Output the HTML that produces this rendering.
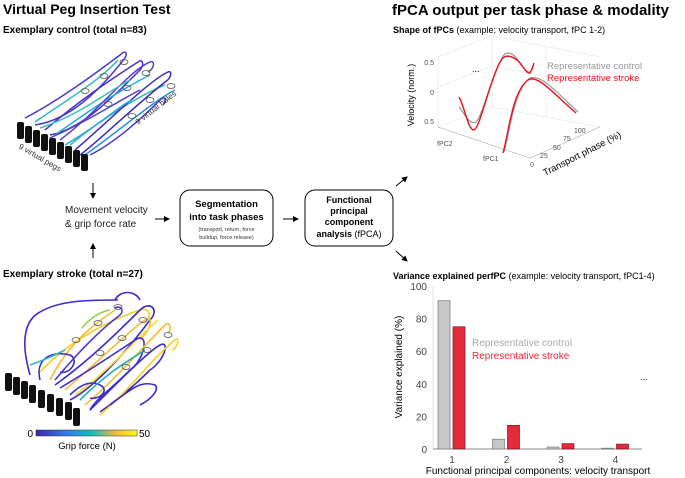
<!DOCTYPE html>
<html><head><meta charset="utf-8"><style>
body{margin:0;width:685px;height:478px;background:#fff;overflow:hidden;font-family:"Liberation Sans",sans-serif;}
svg{position:absolute;left:0;top:0}
text{font-family:"Liberation Sans",sans-serif}
</style></head><body>
<svg width="685" height="478" viewBox="0 0 685 478">
<defs>
<marker id="ah" markerWidth="6" markerHeight="6" refX="5" refY="3" orient="auto"><path d="M0,0 L6,3 L0,6 z" fill="#000"/></marker>
<linearGradient id="cb" x1="0" x2="1"><stop offset="0" stop-color="#3e26a8"/><stop offset="0.3" stop-color="#2f7bf0"/><stop offset="0.55" stop-color="#12beb9"/><stop offset="0.8" stop-color="#fdbb38"/><stop offset="1" stop-color="#f9fb15"/></linearGradient>
</defs>
<text x="3" y="14" font-size="14" font-weight="bold">Virtual Peg Insertion Test</text>
<text x="3" y="33" font-size="10" font-weight="bold">Exemplary control (total n=83)</text>

<g fill="none" stroke-width="1.5">
<path d="M25,118 C60,100 100,70 120,55 C125,50 128,52 125,58 C100,90 70,120 35,125" stroke="#4a3ad0"/>
<path d="M35,122 C70,98 100,80 118,60" stroke="#2fb8c6"/>
<path d="M45,130 C80,100 110,80 138,62 C142,58 145,64 140,70 C110,100 80,130 50,135" stroke="#4530c8"/>
<path d="M55,135 C90,110 120,90 150,75" stroke="#22a9d8"/>
<path d="M60,140 C100,110 130,70 150,62 C155,60 155,68 148,72" stroke="#5a40d0"/>
<path d="M70,145 C100,120 140,95 165,85" stroke="#38c0b0"/>
<path d="M75,150 C110,120 150,80 168,72 C172,70 172,78 165,82 C130,110 100,140 80,155" stroke="#3a2ac0"/>
<path d="M85,155 C120,130 155,100 175,90" stroke="#2090e0"/>
<path d="M90,155 C120,140 150,110 160,100 C165,95 168,100 163,105" stroke="#4a36d0"/>
<path d="M40,128 C80,115 110,90 130,80" stroke="#36c2b4"/>
<path d="M50,138 C90,120 120,100 140,90" stroke="#5040c8"/>
<path d="M65,145 C100,125 120,105 132,100" stroke="#30a0e0"/>
</g>
<g fill="none" stroke="#555" stroke-width="0.8">
<ellipse cx="124" cy="62" rx="4" ry="2.5"/><ellipse cx="146" cy="73" rx="4" ry="2.5"/><ellipse cx="171" cy="86" rx="4" ry="2.5"/>
<ellipse cx="104" cy="76" rx="4" ry="2.5"/><ellipse cx="127" cy="88" rx="4" ry="2.5"/><ellipse cx="150" cy="100" rx="4" ry="2.5"/>
<ellipse cx="85" cy="91" rx="4" ry="2.5"/><ellipse cx="108" cy="104" rx="4" ry="2.5"/><ellipse cx="132" cy="116" rx="4" ry="2.5"/>
</g>
<g fill="#111">
<rect x="17" y="122" width="7" height="17" rx="2"/><rect x="25" y="126" width="7" height="17" rx="2"/><rect x="33" y="130" width="7" height="17" rx="2"/>
<rect x="41" y="134" width="7" height="17" rx="2"/><rect x="49" y="138" width="7" height="17" rx="2"/><rect x="57" y="142" width="7" height="17" rx="2"/>
<rect x="65" y="146" width="7" height="17" rx="2"/><rect x="73" y="150" width="7" height="17" rx="2"/><rect x="81" y="154" width="7" height="17" rx="2"/>
</g>
<text x="18" y="148" font-size="8" fill="#333" transform="rotate(30 18 148)">9 virtual pegs</text>
<text x="138" y="125" font-size="8" fill="#333" transform="rotate(-38 138 125)">9 virtual holes</text>

<line x1="93" y1="183" x2="93" y2="198" stroke="#000" marker-end="url(#ah)"/>
<line x1="93" y1="258" x2="93" y2="244" stroke="#000" marker-end="url(#ah)"/>
<text x="65" y="213" font-size="10" fill="#222">Movement velocity</text>
<text x="65" y="227" font-size="10" fill="#222">&amp; grip force rate</text>
<line x1="155" y1="219" x2="169" y2="219" stroke="#000" marker-end="url(#ah)"/>
<rect x="180" y="190" width="93" height="56" rx="10" fill="none" stroke="#000" stroke-width="1"/>
<text x="226.5" y="207" font-size="9.5" font-weight="bold" text-anchor="middle">Segmentation</text>
<text x="226.5" y="220" font-size="9.5" font-weight="bold" text-anchor="middle">into task phases</text>
<text x="226.5" y="231" font-size="5.5" text-anchor="middle" fill="#333">(transport, return, force</text>
<text x="226.5" y="239" font-size="5.5" text-anchor="middle" fill="#333">buildup, force release)</text>
<line x1="283" y1="219" x2="298" y2="219" stroke="#000" marker-end="url(#ah)"/>
<rect x="305" y="190" width="88" height="56" rx="10" fill="none" stroke="#000" stroke-width="1"/>
<text x="349" y="203" font-size="9" font-weight="bold" text-anchor="middle">Functional</text>
<text x="349" y="214" font-size="9" font-weight="bold" text-anchor="middle">principal</text>
<text x="349" y="225" font-size="9" font-weight="bold" text-anchor="middle">component</text>
<text x="349" y="237" font-size="9" text-anchor="middle"><tspan font-weight="bold">analysis</tspan> (fPCA)</text>
<line x1="396" y1="186" x2="407" y2="177" stroke="#000" marker-end="url(#ah)"/>
<line x1="396" y1="251" x2="407" y2="261" stroke="#000" marker-end="url(#ah)"/>

<text x="3" y="277" font-size="10" font-weight="bold">Exemplary stroke (total n=27)</text>
<g fill="none" stroke-width="1.6">
<path d="M30,375 C20,340 25,320 40,312 C60,300 90,300 118,300" stroke="#3a2ad0"/>
<path d="M50,380 C70,340 100,320 115,310" stroke="#fbb93a"/>
<path d="M40,372 C70,340 110,320 140,310 C150,306 152,318 145,322" stroke="#f5d020"/>
<path d="M55,385 C90,360 120,330 140,310 C150,300 160,310 150,320 C120,360 90,390 70,400" stroke="#3a2ad0"/>
<path d="M65,390 C100,360 130,330 145,320 C155,315 150,330 140,340" stroke="#fbb93a"/>
<path d="M75,395 C110,370 140,335 158,320" stroke="#f9e020"/>
<path d="M60,388 C90,370 120,350 135,340 C150,330 145,360 130,370 C110,390 95,400 90,410" stroke="#4030d0"/>
<path d="M85,405 C115,380 140,350 165,325 C170,320 172,330 168,333" stroke="#f0c030"/>
<path d="M90,410 C120,380 150,350 160,345 C170,340 165,360 150,370 C130,390 110,405 100,412" stroke="#3a2ad0"/>
<path d="M100,415 C130,390 150,360 175,340 C180,335 178,348 172,350" stroke="#f9d020"/>
<path d="M40,380 C35,360 50,350 70,355 C80,360 70,375 60,372" stroke="#3a2ad0"/>
<path d="M70,395 C80,385 90,380 100,385 C110,390 100,400 90,398" stroke="#4030d0"/>
<path d="M110,405 C130,390 140,380 155,385 C160,390 150,400 140,405" stroke="#3a2ad0"/>
<path d="M80,400 C110,370 130,360 145,350" stroke="#20b0b0"/>
<path d="M55,380 C80,350 100,330 120,315 C125,310 120,305 115,308" stroke="#4a3ad0"/>
<path d="M30,365 C45,360 55,355 65,350" stroke="#2fb8c6"/>
<path d="M115,300 C120,290 135,290 140,300" stroke="#3a2ad0"/>
<path d="M82,328 C90,318 100,312 110,310" stroke="#9ad040"/>
</g>
<g fill="none" stroke="#555" stroke-width="0.8">
<ellipse cx="118" cy="307" rx="4" ry="2.5"/><ellipse cx="143" cy="320" rx="4" ry="2.5"/><ellipse cx="168" cy="335" rx="4" ry="2.5"/>
<ellipse cx="98" cy="323" rx="4" ry="2.5"/><ellipse cx="122" cy="338" rx="4" ry="2.5"/><ellipse cx="147" cy="350" rx="4" ry="2.5"/>
<ellipse cx="76" cy="340" rx="4" ry="2.5"/><ellipse cx="100" cy="353" rx="4" ry="2.5"/><ellipse cx="126" cy="367" rx="4" ry="2.5"/>
</g>
<g fill="#111">
<rect x="5" y="373" width="7" height="18" rx="2"/><rect x="13" y="377" width="7" height="18" rx="2"/><rect x="21" y="381" width="7" height="18" rx="2"/>
<rect x="29" y="385" width="7" height="18" rx="2"/><rect x="38" y="390" width="7" height="18" rx="2"/><rect x="47" y="394" width="7" height="18" rx="2"/>
<rect x="56" y="398" width="7" height="18" rx="2"/><rect x="65" y="402" width="7" height="18" rx="2"/><rect x="73" y="408" width="7" height="18" rx="2"/>
</g>
<rect x="36" y="430" width="101" height="6" fill="url(#cb)" stroke="#333" stroke-width="0.5"/>
<text x="33" y="437" font-size="10" text-anchor="end">0</text>
<text x="139" y="437" font-size="10">50</text>
<text x="87" y="449" font-size="9.5" text-anchor="middle">Grip force (N)</text>

<text x="392" y="15" font-size="15" font-weight="bold">fPCA output per task phase &amp; modality</text>
<text x="393" y="33" font-size="9"><tspan font-weight="bold">Shape of fPCs</tspan> (example: velocity transport, fPC 1-2)</text>
<g>
<g stroke="#e4e4e4" stroke-width="0.6" fill="none">
<path d="M438,57 L492,36 L600,57 M438,87 L492,66 L600,87 M492,36 L492,107 M438,57 L438,127 L492,107 L600,127 M546,47 L546,117"/>
</g>
<path d="M438,127 L530,158 L600,127" stroke="#aaa" stroke-width="0.6" fill="none"/>
<text x="434" y="65" font-size="7" fill="#555" text-anchor="end">0.5</text>
<text x="434" y="95" font-size="7" fill="#555" text-anchor="end">0</text>
<text x="434" y="124" font-size="7" fill="#555" text-anchor="end">0.5</text>
<text x="414" y="95" font-size="9" text-anchor="middle" transform="rotate(-90 414 95)">Velocity (norm.)</text>
<text x="437" y="146" font-size="7" fill="#555">fPC2</text>
<text x="483" y="161" font-size="7" fill="#555">fPC1</text>
<text x="530" y="167" font-size="7" fill="#555">0</text>
<text x="540" y="158" font-size="7" fill="#555">25</text>
<text x="553" y="150" font-size="7" fill="#555">50</text>
<text x="563" y="141" font-size="7" fill="#555">75</text>
<text x="574" y="133" font-size="7" fill="#555">100</text>
<text x="545" y="176" font-size="9.5" transform="rotate(-27 545 176)">Transport phase (%)</text>
<text x="472" y="72" font-size="9">...</text>
<path d="M459,107 C465,115 470,125 476,122 C483,115 490,80 502,58 C506,50 512,52 518,60 C523,66 526,73 530,72 C532,70 533,68 533,66" fill="none" stroke="#999" stroke-width="1.2"/>
<path d="M459,97 C465,108 468,130 474,130 C480,128 490,80 500,62 C504,54 510,55 517,60 C522,64 526,74 530,73 C532,70 533,66 534,63" fill="none" stroke="#e8141c" stroke-width="1.4"/>
<path d="M504,152 C510,130 514,90 530,78 C540,74 555,90 578,112" fill="none" stroke="#999" stroke-width="1.2"/>
<path d="M503,153 C509,132 512,92 528,80 C537,74 552,92 576,113" fill="none" stroke="#e8141c" stroke-width="1.4"/>
<text x="547" y="69" font-size="9.5" fill="#999">Representative control</text>
<text x="547" y="81" font-size="9.5" fill="#e8141c">Representative stroke</text>
</g>

<text x="393" y="279" font-size="9"><tspan font-weight="bold">Variance explained perfPC</tspan> (example: velocity transport, fPC1-4)</text>
<g id="bars"></g>
</svg>
<script>
const categories = ["1","2","3","4"];
const controlValues = [91, 6, 1.2, 0.5];
const strokeValues = [75, 14.5, 3.3, 3];
const yTicks = [0, 20, 40, 60, 80, 100];
const NS = "http://www.w3.org/2000/svg";
const g = document.getElementById("bars");
const x0 = 433, x1 = 642, yTop = 286, yBot = 449;
const y = v => yBot - (v / 100) * (yBot - yTop);
const xc = i => x0 + 19 + i * 54.5;
function mk(tag, attrs, txt) {
  const e = document.createElementNS(NS, tag);
  for (const k in attrs) e.setAttribute(k, attrs[k]);
  if (txt !== undefined) e.textContent = txt;
  g.appendChild(e);
  return e;
}
const axis = mk("line", {x1: x0, y1: yBot, x2: x1, y2: yBot, stroke: "#888", "stroke-width": 1});


const yax = mk("line", {x1: x0, y1: yTop, x2: x0, y2: yBot, stroke: "#ccc", "stroke-width": 0.6});


yTicks.forEach(t => {
  const tl = mk("text", {x: 427, y: y(t) + 4, "font-size": 10, "text-anchor": "end", fill: "#444"}, String(t));
  
  
});
categories.forEach((c, i) => {
  const cx = xc(i);
  const b1 = mk("rect", {x: cx - 14, y: y(controlValues[i]), width: 12, height: yBot - y(controlValues[i]), fill: "#c8c8c8", stroke: "#777", "stroke-width": 0.7});
  
  
  const b2 = mk("rect", {x: cx + 1, y: y(strokeValues[i]), width: 12, height: yBot - y(strokeValues[i]), fill: "#e52a3c", stroke: "#7a1a22", "stroke-width": 0.7});
  
  
  const tl = mk("text", {x: cx, y: 463, "font-size": 10, "text-anchor": "middle", fill: "#444"}, c);
  
  
});
const yl = mk("text", {x: 402, y: 367, "font-size": 10, "text-anchor": "middle", transform: "rotate(-90 402 367)"}, "Variance explained (%)");


const xl = mk("text", {x: 538, y: 474, "font-size": 10, "text-anchor": "middle"}, "Functional principal components: velocity transport");


const l1 = mk("text", {x: 472, y: 346, "font-size": 10, fill: "#aaa"}, "Representative control");


const l2 = mk("text", {x: 472, y: 359, "font-size": 10, fill: "#e52a3c"}, "Representative stroke");


const el = mk("text", {x: 640, y: 380, "font-size": 9}, "...");


</script>
</body></html>
